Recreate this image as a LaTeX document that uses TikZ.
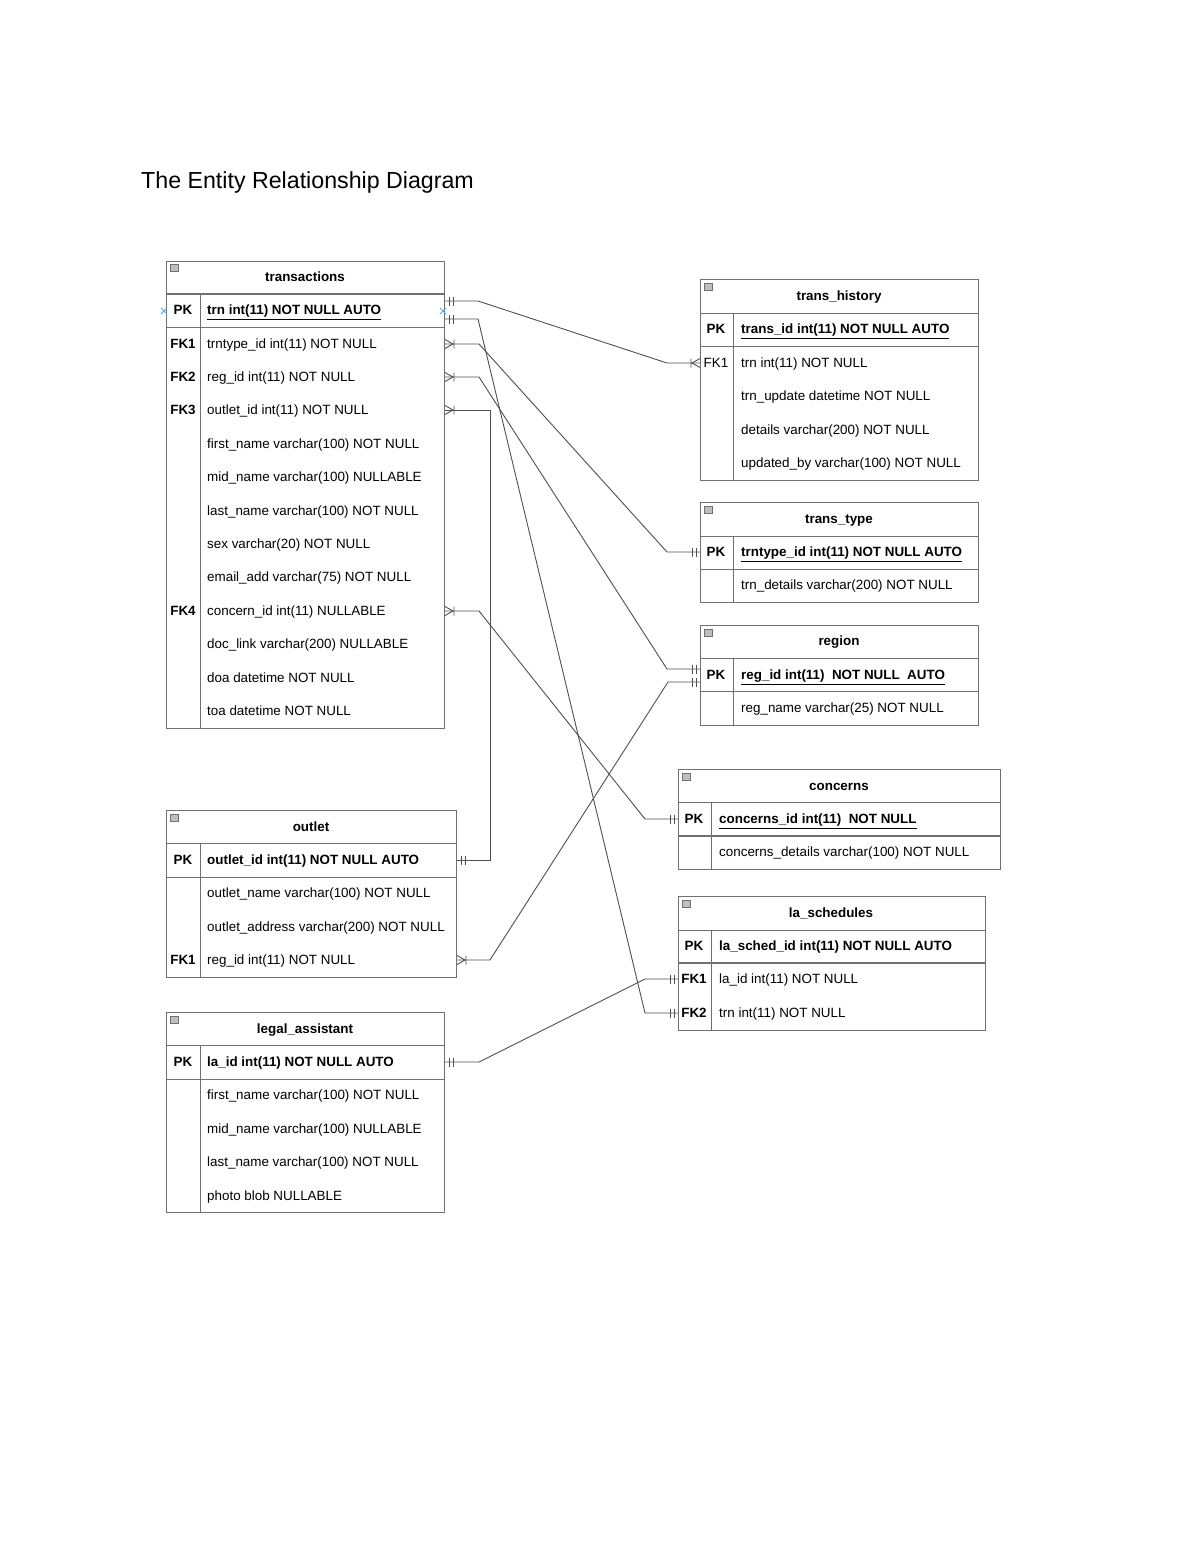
\documentclass[tikz,border=0pt]{standalone}
\usepackage{fontspec}
\setmainfont{Liberation Sans}
\usetikzlibrary{calc}
\definecolor{tgray}{RGB}{112,112,112}
\definecolor{cgray}{RGB}{80,80,80}
\definecolor{icongray}{RGB}{190,190,195}
\definecolor{selcyan}{RGB}{80,170,230}
\tikzset{
  tbl/.style={draw=tgray, line width=1pt, inner sep=0pt, anchor=north west},
  sep/.style={draw=tgray, line width=1pt},
  fld/.style={anchor=west, inner sep=0pt, text height=9.5pt, text depth=0pt, font=\fontsize{13.4}{15}\selectfont},
  fldb/.style={fld, font=\fontsize{13.4}{15}\selectfont\bfseries},
  keyl/.style={inner sep=0pt, text height=9.5pt, text depth=0pt, font=\fontsize{13.4}{15}\selectfont\bfseries},
  keyr/.style={keyl, font=\fontsize{13.4}{15}\selectfont},
  ttl/.style={inner sep=0pt, text height=9.5pt, text depth=0pt, font=\fontsize{13.4}{15}\selectfont\bfseries},
  conn/.style={draw=cgray, line width=0.9pt},
  icon/.style={draw=tgray, fill=icongray, line width=0.5pt},
  pics/one/.style={code={\draw[conn] (4,-4.5)--(4,4.5) (8,-4.5)--(8,4.5);}},
  pics/many/.style={code={\draw[conn] (0,-4.5)--(8,0) (0,4.5)--(8,0) (9,-4.5)--(9,4.5);}},
}
\newcommand{\tblicon}[2]{\draw[icon] (#1,#2) rectangle ++(8,7);}
\begin{document}
\begin{tikzpicture}[x=1pt,y=-1pt]
\useasboundingbox[fill=white] (0,0) rectangle (1200,1553);

\node[anchor=base west, inner sep=0pt, font=\fontsize{23.2}{27}\selectfont] (title) at (141,188) {The Entity Relationship Diagram};

% ---------- transactions ----------
\node[tbl, minimum width=278pt, minimum height=467pt] (tr) at (166,261) {};
\draw[sep] (166,327) -- (444,327) (200,294) -- (200,728);
\draw[sep, line width=1.6pt] (166,294) -- (444,294);
\tblicon{170}{264}
\node[ttl] (trt) at (305,277) {transactions};
\node[keyl] (trk0) at (183,310) {PK};
\node[keyl] (trk1) at (183,344) {FK1};
\node[keyl] (trk2) at (183,377) {FK2};
\node[keyl] (trk3) at (183,410) {FK3};
\node[keyl] (trk4) at (183,611) {FK4};
\node[fldb] (trpk) at (207,310) {\underline{trn int(11) NOT NULL AUTO}};
\node[fld] (trfk1) at (207,344) {trntype\_id int(11) NOT NULL};
\node[fld] (trfk2) at (207,377) {reg\_id int(11) NOT NULL};
\node[fld] (trfk3) at (207,410) {outlet\_id int(11) NOT NULL};
\node[fld] (trf5) at (207,444) {first\_name varchar(100) NOT NULL};
\node[fld] (trf6) at (207,477) {mid\_name varchar(100) NULLABLE};
\node[fld] (trf7) at (207,511) {last\_name varchar(100) NOT NULL};
\node[fld] (trf8) at (207,544) {sex varchar(20) NOT NULL};
\node[fld] (trf9) at (207,577) {email\_add varchar(75) NOT NULL};
\node[fld] (trfk4) at (207,611) {concern\_id int(11) NULLABLE};
\node[fld] (trf11) at (207,644) {doc\_link varchar(200) NULLABLE};
\node[fld] (trf12) at (207,678) {doa datetime NOT NULL};
\node[fld] (trf13) at (207,711) {toa datetime NOT NULL};
\draw[selcyan, line width=0.8pt] (161,308) -- (167,314) (161,314) -- (167,308)
  (440,308) -- (446,314) (440,314) -- (446,308);

% ---------- trans_history ----------
\node[tbl, minimum width=278pt, minimum height=201pt] (th) at (700,279) {};
\draw[sep] (700,313) -- (978,313) (700,346) -- (978,346) (733,313) -- (733,480);
\tblicon{704}{283}
\node[ttl] (tht) at (839,296) {trans\_history};
\node[keyl] (thk0) at (716,329) {PK};
\node[keyr] (thk1) at (716,363) {FK1};
\node[fldb] (thpk) at (741,329) {\underline{trans\_id int(11) NOT NULL AUTO}};
\node[fld] (thfk1) at (741,363) {trn int(11) NOT NULL};
\node[fld] (thf2) at (741,396) {trn\_update datetime NOT NULL};
\node[fld] (thf3) at (741,430) {details varchar(200) NOT NULL};
\node[fld] (thf4) at (741,463) {updated\_by varchar(100) NOT NULL};

% ---------- trans_type ----------
\node[tbl, minimum width=278pt, minimum height=100pt] (tt) at (700,502) {};
\draw[sep] (700,536) -- (978,536) (700,569) -- (978,569) (733,536) -- (733,602);
\tblicon{704}{506}
\node[ttl] (ttt) at (839,519) {trans\_type};
\node[keyl] (ttk0) at (716,552) {PK};
\node[fldb] (ttpk) at (741,552) {\underline{trntype\_id int(11) NOT NULL AUTO}};
\node[fld] (ttf2) at (741,585) {trn\_details varchar(200) NOT NULL};

% ---------- region ----------
\node[tbl, minimum width=278pt, minimum height=100pt] (rg) at (700,625) {};
\draw[sep] (700,658) -- (978,658) (700,691) -- (978,691) (733,658) -- (733,725);
\tblicon{704}{629}
\node[ttl] (rgt) at (839,641) {region};
\node[keyl] (rgk0) at (716,675) {PK};
\node[fldb] (rgpk) at (741,675) {\underline{reg\_id int(11)\ \ NOT NULL\ \ AUTO}};
\node[fld] (rgf2) at (741,708) {reg\_name varchar(25) NOT NULL};

% ---------- concerns ----------
\node[tbl, minimum width=322pt, minimum height=100pt] (cn) at (678,769) {};
\draw[sep] (678,802) -- (1000,802) (711,802) -- (711,869);
\draw[sep, line width=1.6pt] (678,836) -- (1000,836);
\tblicon{682}{773}
\node[ttl] (cnt) at (839,786) {concerns};
\node[keyl] (cnk0) at (694,819) {PK};
\node[fldb] (cnpk) at (719,819) {\underline{concerns\_id int(11)\ \ NOT NULL}};
\node[fld] (cnf2) at (719,852) {concerns\_details varchar(100) NOT NULL};

% ---------- la_schedules ----------
\node[tbl, minimum width=307pt, minimum height=134pt] (ls) at (678,896) {};
\draw[sep] (678,930) -- (985,930) (711,930) -- (711,1030);
\draw[sep, line width=1.6pt] (678,963) -- (985,963);
\tblicon{682}{900}
\node[ttl] (lst) at (831,913) {la\_schedules};
\node[keyl] (lsk0) at (694,946) {PK};
\node[keyl] (lsk1) at (694,979) {FK1};
\node[keyl] (lsk2) at (694,1013) {FK2};
\node[fldb] (lspk) at (719,946) {la\_sched\_id int(11) NOT NULL AUTO};
\node[fld] (lsfk1) at (719,979) {la\_id int(11) NOT NULL};
\node[fld] (lsfk2) at (719,1013) {trn int(11) NOT NULL};

% ---------- outlet ----------
\node[tbl, minimum width=290pt, minimum height=167pt] (ou) at (166,810) {};
\draw[sep] (166,843) -- (456,843) (166,877) -- (456,877) (200,843) -- (200,977);
\tblicon{170}{814}
\node[ttl] (out) at (311,827) {outlet};
\node[keyl] (ouk0) at (183,860) {PK};
\node[keyl] (ouk1) at (183,960) {FK1};
\node[fldb] (oupk) at (207,860) {outlet\_id int(11) NOT NULL AUTO};
\node[fld] (ouf2) at (207,893) {outlet\_name varchar(100) NOT NULL};
\node[fld] (ouf3) at (207,927) {outlet\_address varchar(200) NOT NULL};
\node[fld] (oufk1) at (207,960) {reg\_id int(11) NOT NULL};

% ---------- legal_assistant ----------
\node[tbl, minimum width=278pt, minimum height=200pt] (la) at (166,1012) {};
\draw[sep] (166,1045) -- (444,1045) (166,1079) -- (444,1079) (200,1045) -- (200,1212);
\tblicon{170}{1016}
\node[ttl] (lat) at (305,1029) {legal\_assistant};
\node[keyl] (lak0) at (183,1062) {PK};
\node[fldb] (lapk) at (207,1062) {la\_id int(11) NOT NULL AUTO};
\node[fld] (laf2) at (207,1095) {first\_name varchar(100) NOT NULL};
\node[fld] (laf3) at (207,1129) {mid\_name varchar(100) NULLABLE};
\node[fld] (laf4) at (207,1162) {last\_name varchar(100) NOT NULL};
\node[fld] (laf5) at (207,1196) {photo blob NULLABLE};

% ---------- connectors ----------
% transactions.trn -> trans_history.trn
\draw[conn] ($(tr.east|-trpk)+(0,-9)$) -- ++(33,0) -- ($(th.west|-thfk1)+(-33,0)$) -- (th.west|-thfk1);
\pic at ($(tr.east|-trpk)+(0,-9)$) {one};
\pic[xscale=-1] at (th.west|-thfk1) {many};
% transactions.trn -> la_schedules.trn
\draw[conn] ($(tr.east|-trpk)+(0,9)$) -- ++(33,0) -- ($(ls.west|-lsfk2)+(-33,0)$) -- (ls.west|-lsfk2);
\pic at ($(tr.east|-trpk)+(0,9)$) {one};
\pic[xscale=-1] at (ls.west|-lsfk2) {one};
% transactions.trntype_id -> trans_type
\draw[conn] (tr.east|-trfk1) -- ++(34,0) -- ($(tt.west|-ttpk)+(-33,0)$) -- (tt.west|-ttpk);
\pic at (tr.east|-trfk1) {many};
\pic[xscale=-1] at (tt.west|-ttpk) {one};
% transactions.reg_id -> region
\draw[conn] (tr.east|-trfk2) -- ++(34,0) -- ($(rg.west|-rgpk)+(-33,-6)$) -- ($(rg.west|-rgpk)+(0,-6)$);
\pic at (tr.east|-trfk2) {many};
\pic[xscale=-1] at ($(rg.west|-rgpk)+(0,-6)$) {one};
% transactions.outlet_id -> outlet
\draw[conn] (tr.east|-trfk3) -- ++(45,0) -- ($(ou.east|-oupk)+(33,0)$) -- (ou.east|-oupk);
\pic at (tr.east|-trfk3) {many};
\pic at (ou.east|-oupk) {one};
% transactions.concern_id -> concerns
\draw[conn] (tr.east|-trfk4) -- ++(34,0) -- ($(cn.west|-cnpk)+(-33,0)$) -- (cn.west|-cnpk);
\pic at (tr.east|-trfk4) {many};
\pic[xscale=-1] at (cn.west|-cnpk) {one};
% outlet.reg_id -> region
\draw[conn] (ou.east|-oufk1) -- ++(33,0) -- ($(rg.west|-rgpk)+(-32,7)$) -- ($(rg.west|-rgpk)+(0,7)$);
\pic at (ou.east|-oufk1) {many};
\pic[xscale=-1] at ($(rg.west|-rgpk)+(0,7)$) {one};
% legal_assistant -> la_schedules.la_id
\draw[conn] (la.east|-lapk) -- ++(34,0) -- ($(ls.west|-lsfk1)+(-33,0)$) -- (ls.west|-lsfk1);
\pic at (la.east|-lapk) {one};
\pic[xscale=-1] at (ls.west|-lsfk1) {one};
\end{tikzpicture}
\end{document}
